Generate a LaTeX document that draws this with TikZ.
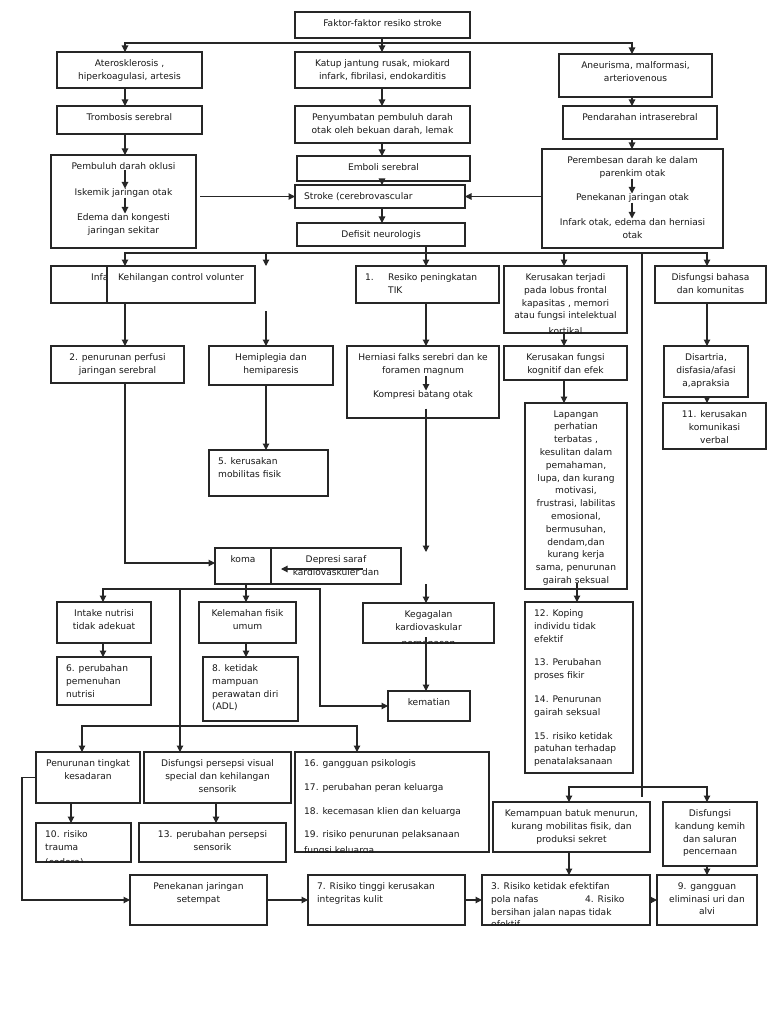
\documentclass[tikz,border=0pt]{standalone}
\usepackage{fontspec}
\setmainfont{DejaVu Sans}
\usetikzlibrary{arrows.meta,calc}
\tikzset{
 box/.style={draw=black!85, line width=1.1pt, fill=white, inner sep=0pt, outer sep=0pt},
 txt/.style={inner sep=0pt, text=black!90, font=\fontsize{9.1}{12.8}\selectfont},
 ln/.style={line width=1.1pt, draw=black!85},
 arr/.style={ln, -{Triangle[length=6.5pt,width=6.5pt]}},
}
\newcommand{\bx}[7]{%
  \pgfmathsetmacro{\bxw}{#4-#2}%
  \pgfmathsetmacro{\bxh}{#5-#3}%
  \node[box, minimum width=\bxw pt, minimum height=\bxh pt] (#1) at ({(#2+#4)/2},{(#3+#5)/2}) {};%
  \begin{scope}
  \clip (#1.south west) rectangle (#1.north east);
  \ifx c#6 \node[txt, align=center, anchor=north] at ([yshift=-7.3pt]#1.north) {#7};%
  \else \node[txt, align=left, anchor=north west] at ([xshift=9pt,yshift=-7.3pt]#1.north west) {#7};\fi
  \end{scope}}
\begin{document}
\begin{tikzpicture}[x=1pt,y=-1pt]
\useasboundingbox (0,0) rectangle (768,1024);
\fill[white] (0,0) rectangle (768,1024);
\coordinate (cA) at (125,0);
\coordinate (cB) at (382,0);
\coordinate (cC) at (632,0);
\coordinate (cD) at (180,0);
\coordinate (cE) at (707,0);
\coordinate (cG) at (246,0);
\coordinate (cH) at (266,0);
\coordinate (cI) at (103,0);
\coordinate (cK) at (564,0);
\coordinate (cL) at (577,0);
\coordinate (cM) at (320,0);
\coordinate (cP) at (82,0);
\coordinate (cQ) at (357,0);
\coordinate (cR) at (426,0);
\coordinate (cS) at (569,0);
\coordinate (cT) at (71,0);
\coordinate (cU) at (22,0);
\coordinate (cV) at (642,0);
\coordinate (cW) at (216,0);
\coordinate (j0) at (382,43);
\coordinate (j1) at (426,253);
\coordinate (j2) at (246,589);
\coordinate (j3) at (180,726);
\coordinate (j4) at (642,787);
\coordinate (g1) at (426,552);
\coordinate (g2) at (426,584);

\bx{fak}{295}{12}{470}{38}{c}{Faktor-faktor resiko stroke}
\bx{ater}{57}{52}{202}{88}{c}{Aterosklerosis ,\\hiperkoagulasi, artesis}
\bx{katup}{295}{52}{470}{88}{c}{Katup jantung rusak, miokard\\infark, fibrilasi, endokarditis}
\bx{aneu}{559}{54}{712}{97}{c}{Aneurisma, malformasi,\\arteriovenous}
\bx{tromb}{57}{106}{202}{134}{c}{Trombosis serebral}
\bx{penyum}{295}{106}{470}{143}{c}{Penyumbatan pembuluh darah\\otak oleh bekuan darah, lemak}
\bx{pendar}{563}{106}{717}{139}{c}{Pendarahan intraserebral}
\bx{pemb}{51}{155}{196}{248}{c}{}
\node[txt, anchor=north] (pemb1) at (123.5,162.5) {Pembuluh darah oklusi};
\node[txt, anchor=north] (pemb2) at (123.5,188.5) {Iskemik jaringan otak};
\node[txt, anchor=north, align=center] (pemb3) at (123.5,213.5) {Edema dan kongesti\\jaringan sekitar};
\bx{emboli}{297}{156}{470}{181}{c}{Emboli serebral}
\bx{stroke}{295}{185}{465}{208}{l}{Stroke (cerebrovascular}
\bx{perem}{542}{149}{723}{248}{c}{}
\node[txt, anchor=north, align=center] (perem1) at (632.5,156.5) {Perembesan darah ke dalam\\parenkim otak};
\node[txt, anchor=north] (perem2) at (632.5,193.5) {Penekanan jaringan otak};
\node[txt, anchor=north, align=center] (perem3) at (632.5,218.5) {Infark otak, edema dan herniasi\\otak};
\bx{defisit}{297}{223}{465}{246}{c}{Defisit neurologis}
\bx{infa}{51}{266}{250}{303}{c}{}
\node[txt, anchor=north west] (infat) at (91,273.5) {Infa};
\bx{kehil}{107}{266}{255}{303}{c}{Kehilangan control volunter}
\bx{resiko}{356}{266}{499}{303}{l}{\makebox[23pt][l]{1.}Resiko peningkatan\\\hspace*{23pt}TIK}
\bx{kerjadi}{504}{266}{627}{333}{c}{Kerusakan terjadi\\pada lobus  frontal\\kapasitas , memori\\atau fungsi intelektual\\[3pt]kortikal}
\bx{disbah}{655}{266}{766}{303}{c}{Disfungsi bahasa\\dan komunitas}
\bx{perfusi}{51}{346}{184}{383}{c}{2. penurunan perfusi\\jaringan serebral}
\bx{hemi}{209}{346}{333}{385}{c}{Hemiplegia dan\\hemiparesis}
\bx{hern}{347}{346}{499}{418}{c}{}
\node[txt, anchor=north, align=center] (hern1) at (423,353.5) {Herniasi falks serebri dan ke\\foramen magnum};
\node[txt, anchor=north] (hern2) at (423,390.5) {Kompresi batang otak};
\bx{kerfung}{504}{346}{627}{380}{c}{Kerusakan fungsi\\kognitif dan efek}
\bx{disar}{664}{346}{748}{397}{c}{Disartria,\\disfasia/afasi\\a,apraksia}
\bx{kom}{663}{403}{766}{449}{c}{11. kerusakan\\komunikasi\\verbal}
\bx{lap}{525}{403}{627}{589}{c}{Lapangan\\perhatian\\terbatas ,\\kesulitan dalam\\pemahaman,\\lupa, dan kurang\\motivasi,\\frustrasi, labilitas\\emosional,\\bermusuhan,\\dendam,dan\\kurang kerja\\sama, penurunan\\gairah seksual}
\bx{mob}{209}{450}{328}{496}{l}{5. kerusakan\\mobilitas fisik}
\bx{koma}{215}{548}{271}{584}{c}{koma}
\bx{depr}{271}{548}{401}{584}{c}{Depresi saraf\\kardiovaskuler dan}
\bx{intake}{57}{602}{151}{643}{c}{Intake nutrisi\\tidak adekuat}
\bx{kelem}{199}{602}{296}{643}{c}{Kelemahan fisik\\umum}
\bx{keg}{363}{603}{494}{643}{c}{Kegagalan\\kardiovaskular\\[3pt]pernapasan}
\bx{kop}{525}{602}{633}{773}{l}{12. Koping\\individu tidak\\efektif\\[11pt]13. Perubahan\\proses fikir\\[11pt]14. Penurunan\\gairah seksual\\[11pt]15. risiko ketidak\\patuhan terhadap\\penatalaksanaan}
\bx{nutr}{57}{657}{151}{705}{l}{6. perubahan\\pemenuhan\\nutrisi}
\bx{adl}{203}{657}{298}{721}{l}{8. ketidak\\mampuan\\perawatan diri\\(ADL)}
\bx{kemat}{388}{691}{470}{721}{c}{kematian}
\bx{penur}{36}{752}{140}{803}{c}{Penurunan tingkat\\kesadaran}
\bx{dispers}{144}{752}{291}{803}{c}{Disfungsi persepsi visual\\special dan kehilangan\\sensorik}
\bx{psi}{295}{752}{489}{852}{l}{16. gangguan psikologis\\[11pt]17. perubahan peran keluarga\\[11pt]18. kecemasan klien dan keluarga\\[11pt]19. risiko penurunan pelaksanaan\\[3pt]fungsi keluarga}
\bx{trauma}{36}{823}{131}{862}{l}{10. risiko\\trauma\\[2pt](cedera)}
\bx{sens}{139}{823}{286}{862}{c}{13. perubahan persepsi\\sensorik}
\bx{batuk}{493}{802}{650}{852}{c}{Kemampuan batuk menurun,\\kurang mobilitas fisik, dan\\produksi sekret}
\bx{kand}{663}{802}{757}{866}{c}{Disfungsi\\kandung kemih\\dan saluran\\pencernaan}
\bx{tekan}{130}{875}{267}{925}{c}{Penekanan jaringan\\setempat}
\bx{kulit}{308}{875}{465}{925}{l}{7. Risiko tinggi kerusakan\\integritas kulit}
\bx{nafas}{482}{875}{650}{925}{l}{3. Risiko ketidak efektifan\\\makebox[94pt][l]{pola nafas}4. Risiko\\bersihan jalan napas tidak\\efektif}
\bx{elim}{657}{875}{757}{925}{c}{9. gangguan\\eliminasi uri dan\\alvi}

% connectors
\draw[ln] (fak.south -| j0) -- (j0);
\draw[arr] (j0) -| (ater.north -| cA);
\draw[arr] (j0) -- (katup.north -| cB);
\draw[arr] (j0) -| (aneu.north -| cC);
\draw[arr] (ater.south -| cA) -- (tromb.north -| cA);
\draw[arr] (tromb.south -| cA) -- (pemb.north -| cA);
\draw[arr] (pemb1.south -| cA) -- (pemb2.north -| cA);
\draw[arr] (pemb2.south -| cA) -- (pemb3.north -| cA);
\draw[arr] ($(pemb.east |- stroke.west)+(4,0)$) -- (stroke.west);
\draw[arr] (katup.south -| cB) -- (penyum.north -| cB);
\draw[arr] (penyum.south -| cB) -- (emboli.north -| cB);
\draw[arr] (emboli.south -| cB) -- (stroke.north -| cB);
\draw[arr] (stroke.south -| cB) -- (defisit.north -| cB);
\draw[arr] (aneu.south -| cC) -- (pendar.north -| cC);
\draw[arr] (pendar.south -| cC) -- (perem.north -| cC);
\draw[arr] (perem1.south -| cC) -- (perem2.north -| cC);
\draw[arr] (perem2.south -| cC) -- (perem3.north -| cC);
\draw[arr] (perem.west |- stroke.east) -- (stroke.east);

\draw[ln] (defisit.south -| j1) -- (j1);
\draw[arr] (j1) -| (infa.north -| cA);
\draw[arr] (j1) -| (disbah.north -| cE);
\draw[arr] (j1 -| cH) -- (kehil.north -| cH);
\draw[arr] (j1) -- (resiko.north -| cR);
\draw[arr] (j1 -| cK) -- (kerjadi.north -| cK);
\draw[ln] (j1 -| cV) -- ($(j4)+(0,10)$);
\draw[arr] (j4) -| (batuk.north -| cS);
\draw[arr] (j4) -| (kand.north -| cE);

\draw[arr] (kehil.south -| cA) -- (perfusi.north -| cA);
\draw[arr] ($(kehil.south -| cH)+(0,8)$) -- (hemi.north -| cH);
\draw[arr] (hemi.south -| cH) -- (mob.north -| cH);
\draw[arr] (resiko.south -| cR) -- (hern.north -| cR);
\draw[arr] (hern1.south -| cR) -- (hern2.north -| cR);
\draw[arr] ($(hern2.south -| cR)+(0,9)$) -- (g1);
\draw[arr] (g2) -- (keg.north -| cR);
\draw[arr] ($(keg.south -| cR)+(0,-6)$) -- (kemat.north -| cR);
\draw[arr] (kerjadi.south -| cK) -- (kerfung.north -| cK);
\draw[arr] (kerfung.south -| cK) -- (lap.north -| cK);
\draw[arr] ($(lap.south -| cL)+(0,-6)$) -- (kop.north -| cL);
\draw[arr] (disbah.south -| cE) -- (disar.north -| cE);
\draw[arr] (disar.south -| cE) -- (kom.north -| cE);
\draw[arr] (perfusi.south -| cA) |- ($(koma.west)+(0,-3)$);
\draw[arr] ($(depr.west)+(92,3)$) -- ($(depr.west)+(10,3)$);
\draw[arr] (koma.south -| cG) -- (kelem.north -| cG);
\draw[arr] (j2) -| (intake.north -| cI);
\draw[arr] (j2) -| (kemat.west -| cM) -- (kemat.west);
\draw[arr] (j2 -| cD) -- (dispers.north -| cD);
\draw[arr] (j3) -| (penur.north -| cP);
\draw[arr] (j3) -| (psi.north -| cQ);
\draw[arr] (intake.south -| cI) -- (nutr.north -| cI);
\draw[arr] (kelem.south -| cG) -- (adl.north -| cG);
\draw[arr] (penur.south -| cT) -- (trauma.north -| cT);
\draw[arr] (penur.west) -- (penur.west -| cU) |- (tekan.west);
\draw[arr] (dispers.south -| cW) -- (sens.north -| cW);
\draw[arr] (tekan.east) -- (kulit.west);
\draw[arr] (kulit.east) -- (nafas.west);
\draw[arr] (nafas.east) -- (elim.west);
\draw[arr] (batuk.south -| cS) -- (nafas.north -| cS);
\draw[arr] (kand.south -| cE) -- (elim.north -| cE);
\end{tikzpicture}
\end{document}
